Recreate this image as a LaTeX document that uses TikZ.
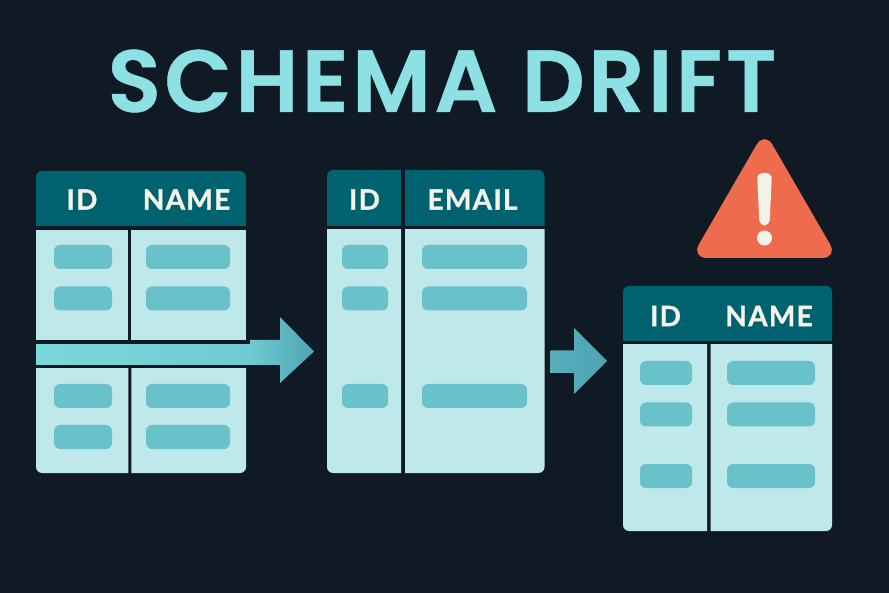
\documentclass[tikz,border=0pt]{standalone}
\usepackage{fontspec}
\setmainfont{Lato}
\newfontfamily\titlefont[LetterSpace=3.8,FakeBold=0.5]{Poppins SemiBold}
\newfontfamily\headfont[LetterSpace=4.5,FakeBold=1]{Lato Bold}
\usetikzlibrary{shadings}
\definecolor{bgc}{HTML}{0F1A24}
\definecolor{titlec}{HTML}{8DE0E3}
\definecolor{headc}{HTML}{01626F}
\definecolor{bodyc}{HTML}{BFE8EA}
\definecolor{pillc}{HTML}{69C1C9}
\definecolor{whitec}{HTML}{F3F3EA}
\definecolor{warnc}{HTML}{EE6C4D}
\definecolor{arrowa}{HTML}{7AD8DA}
\definecolor{arrowb}{HTML}{4FA3B4}
\tikzset{
  headlabel/.style={text=whitec,font=\headfont\fontsize{28}{28}\selectfont,anchor=center,inner sep=0pt},
  titlelabel/.style={text=titlec,font=\titlefont\fontsize{88}{88}\selectfont,anchor=center,inner sep=0pt},
  pill/.style={fill=pillc,rounded corners=6pt},
  body/.style={fill=bodyc},
  head/.style={fill=headc}
}
% header: only the top corners are rounded
\newcommand{\headrect}[4]{\begin{scope}\clip (#1-1,#2-1) rectangle (#3+1,#4);
  \fill[head,rounded corners=6pt] (#1,#2) rectangle (#3,#4+12);\end{scope}}
% column: only the bottom corners named by the overhang are rounded
\newcommand{\colrect}[6]{\begin{scope}\clip (#1,#2) rectangle (#3,#4+1);
  \fill[body,rounded corners=6pt] (#1-#5,#2-12) rectangle (#3+#6,#4);\end{scope}}
\begin{document}
\begin{tikzpicture}[x=1pt,y=-1pt]
\useasboundingbox (0,0) rectangle (889,593);
\fill[bgc] (0,0) rectangle (889,593);
\node[titlelabel] (title) at (442,81) {SCHEMA DRIFT};
% table 1
\headrect{36}{171}{246}{226}
\node[headlabel] (a1) at (82,199.5) {ID};
\node[headlabel] (a2) at (186.5,199.5) {NAME};
\fill[body] (36,230) rectangle (128.3,340);
\fill[body] (131.3,230) rectangle (246,340);
\colrect{36}{369}{128.3}{473}{0}{12}
\colrect{131.3}{369}{246}{473}{12}{0}
\foreach \y in {245,286.5,384,425}{
  \fill[pill] (54,\y) rectangle (112,\y+24);
  \fill[pill] (146,\y) rectangle (230,\y+24);
}
% arrow 1
\shade[left color=arrowa,right color=arrowa!75!arrowb] (36,345) rectangle (250,365);
\shade[left color=arrowa!75!arrowb,right color=arrowb] (250,340) -- (280,340) -- (280,317) -- (314,351.5) -- (280,383) -- (280,365) -- (250,365) -- cycle;
% table 2
\headrect{327}{170}{544.5}{226}
\fill[bgc] (401,165) rectangle (405,226);
\node[headlabel] (b1) at (364.5,199.5) {ID};
\node[headlabel] (b2) at (472.5,199.5) {EMAIL};
\colrect{327}{230}{401}{473}{0}{12}
\colrect{405}{230}{544.5}{473}{12}{0}
\foreach \y in {245,286.5,384}{
  \fill[pill] (342,\y) rectangle (388,\y+24);
  \fill[pill] (422,\y) rectangle (527,\y+24);
}
% arrow 2
\shade[left color=arrowb!80!arrowa,right color=arrowb] (550.5,350.5) -- (574,350.5) -- (574,328) -- (607,361) -- (574,394) -- (574,373) -- (550.5,373) -- cycle;
% warning
\fill[warnc,rounded corners=16pt] (764.5,131) -- (838,258) -- (691,258) -- cycle;
\fill[whitec,rounded corners=6pt] (757,173) -- (772,173) -- (769.5,225.5) -- (759.5,225.5) -- cycle;
\fill[whitec] (764.5,238) circle (7.5pt);
% table 3
\headrect{623}{286}{832}{341}
\node[headlabel] (c1) at (665.5,316) {ID};
\node[headlabel] (c2) at (769,316) {NAME};
\colrect{623}{345}{707}{531}{0}{12}
\colrect{710.5}{345}{832}{531}{12}{0}
\foreach \y in {361,402.5,464}{
  \fill[pill] (640,\y) rectangle (692,\y+24);
  \fill[pill] (727,\y) rectangle (815,\y+24);
}
\end{tikzpicture}
\end{document}
